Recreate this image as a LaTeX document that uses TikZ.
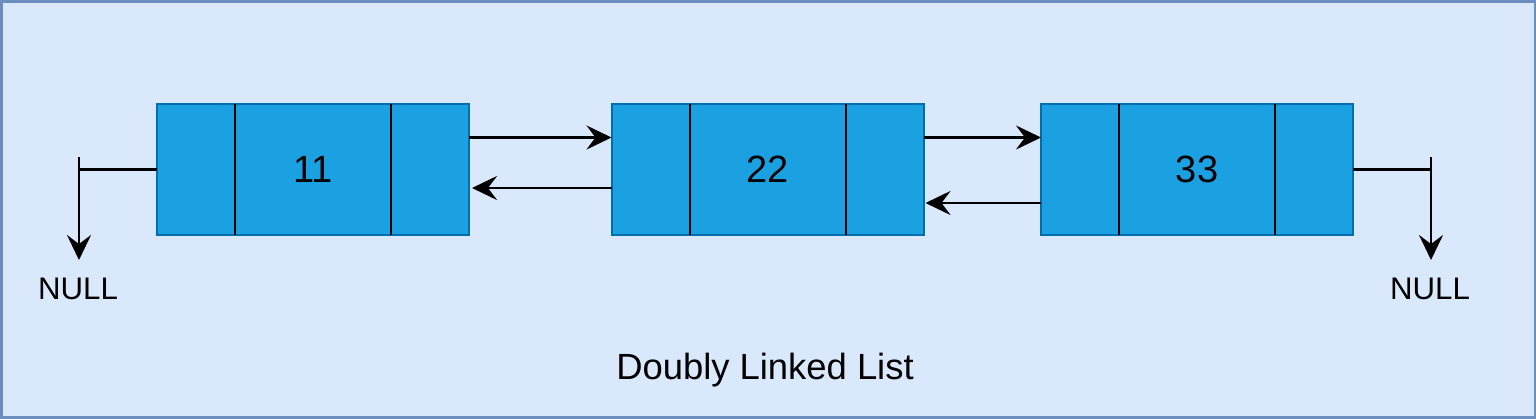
\documentclass[tikz,border=0pt]{standalone}
\usepackage{fontspec}
\setmainfont{Liberation Sans}
\usetikzlibrary{positioning,arrows.meta}
\definecolor{bgfill}{HTML}{DAE8FC}
\definecolor{bgline}{HTML}{6C8EBF}
\definecolor{cellfill}{HTML}{1BA1E2}
\definecolor{cellline}{HTML}{006EAF}
\tikzset{
  ptr/.style={draw=cellline, fill=cellfill, line width=1pt, minimum width=39pt,
    minimum height=65.5pt, outer sep=0pt, inner sep=0pt},
  val/.style={ptr, minimum width=78pt, font=\fontsize{19}{21}\selectfont},
  link/.style={line width=1.4pt, -{Stealth[length=12.5pt,width=12pt,inset=4.5pt]}},
  ground/.style={line width=1.4pt},
  nulltext/.style={font=\fontsize{15.6}{18}\selectfont, anchor=base}
}
\begin{document}
\begin{tikzpicture}[x=0.5pt,y=-0.5pt]
\useasboundingbox (0,0) rectangle (1536,418);
\draw[bgline, fill=bgfill, line width=1.5pt] (1,1) rectangle (1535,417);
% the three list nodes
\foreach \i/\x/\v in {1/196/11, 2/650.5/22, 3/1080/33} {
  \node[ptr] (prev\i) at (\x,169.5) {};
  \node[val, right=0pt of prev\i] (data\i) {\raisebox{-1.5pt}{\v}};
  \node[ptr, right=0pt of data\i] (next\i) {};
  \draw[line width=1pt] (data\i.north west) -- (data\i.south west);
  \draw[line width=1pt] (data\i.north east) -- (data\i.south east);
}
% links
\draw[link] ([yshift=16pt]next1.east) -- ([yshift=16pt]prev2.west);
\draw[link] ([yshift=-9.25pt]prev2.west) -- ([yshift=-9.25pt,xshift=1.5pt]next1.east);
\draw[link] ([yshift=16pt]next2.east) -- ([yshift=16pt]prev3.west);
\draw[link] ([yshift=-16.75pt]prev3.west) -- ([yshift=-16.75pt,xshift=1pt]next2.east);
% null ends
\coordinate (top1) at (79,157);
\coordinate (tip1) at (79,260);
\draw[ground] (prev1.west) -- (prev1.west -| top1);
\draw[link] (top1) -- (tip1);
\node[nulltext] (null1) at (78,299) {NULL};
\coordinate (top3) at (1431,157);
\coordinate (tip3) at (1431,260);
\draw[ground] (next3.east) -- (next3.east -| top3);
\draw[link] (top3) -- (tip3);
\node[nulltext] (null3) at (1430,299) {NULL};
\node[font=\fontsize{18.2}{22}\selectfont, anchor=base] (title) at (765,379) {Doubly Linked List};
\end{tikzpicture}
\end{document}
